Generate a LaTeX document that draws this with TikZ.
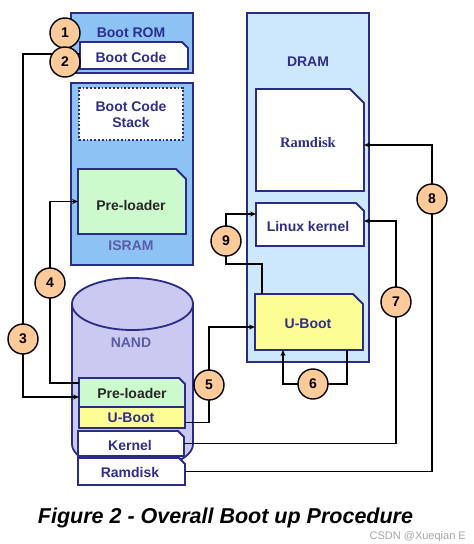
\documentclass[tikz,border=0pt]{standalone}
\usepackage{fontspec}
\setmainfont{Liberation Sans}
\newfontfamily\serifbold{Liberation Serif}
\usetikzlibrary{arrows.meta,calc}
\definecolor{navy}{HTML}{2E2E8C}
\definecolor{edge}{HTML}{2B2B8A}
\definecolor{midblue}{HTML}{8CC2F4}
\definecolor{lightblue}{HTML}{CDE8FD}
\definecolor{lavender}{HTML}{C9C9F2}
\definecolor{mint}{HTML}{CCFACC}
\definecolor{lemon}{HTML}{FDFD96}
\definecolor{peach}{HTML}{FFCA99}
\definecolor{fadedlbl}{HTML}{5C5CA6}
\newcommand\notched[3]{\draw[box,fill=#2] (#1.north west) -- ([xshift=-#3pt]#1.north east) -- ([yshift=-#3pt]#1.north east) -- (#1.south east) -- (#1.south west) -- cycle;}
\begin{document}
\begin{tikzpicture}[x=1pt,y=-1pt,
  box/.style={draw=edge, line width=1.8pt},
  area/.style={inner sep=0pt, outer sep=0pt},
  lbl/.style={font=\fontsize{14}{16}\selectfont\bfseries, text=navy, inner sep=0pt, align=center},
  num/.style={circle, draw=black, line width=1.4pt, fill=peach, minimum size=30pt, inner sep=0pt, font=\fontsize{14}{16}\selectfont\bfseries},
  conn/.style={line width=1.6pt, draw=black},
  arr/.style={conn, -{Stealth[length=6pt,width=5pt]}}]
\useasboundingbox (0,0) rectangle (474,544);

% Boot ROM
\node[area, box, fill=midblue, minimum width=122pt, minimum height=60pt] (bootrom) at (132,43) {};
\node[lbl] (bootromtxt) at (131,33) {Boot ROM};
\node[area, minimum width=108pt, minimum height=27pt] (bootcode) at (134,55.5) {};
\notched{bootcode}{white}{6}
\node[lbl] (bootcodetxt) at (131,57) {Boot Code};

% ISRAM
\node[area, box, fill=midblue, minimum width=122pt, minimum height=182pt] (isram) at (132,174) {};
\node[area, draw=edge, line width=1.8pt, dotted, fill=white, minimum width=104pt, minimum height=52pt] (stack) at (131,114) {};
\node[lbl] (stacktxt) at (131,114) {Boot Code\\Stack};
\node[area, minimum width=108pt, minimum height=65pt] (ipre) at (132,201.5) {};
\notched{ipre}{mint}{10}
\node[lbl, text=black!85] (ipretxt) at (131,205) {Pre-loader};
\node[lbl, text=fadedlbl] (isramtxt) at (131,246) {ISRAM};

% DRAM
\node[area, box, fill=lightblue, minimum width=122pt, minimum height=349pt] (dram) at (308,187.5) {};
\node[lbl] (dramtxt) at (308,62) {DRAM};
\node[area, minimum width=108pt, minimum height=102pt] (dramdisk) at (310,140) {};
\notched{dramdisk}{white}{14}
\node[lbl, font=\serifbold\fontsize{14.5}{16}\selectfont\bfseries] (dramdisktxt) at (308,143) {Ramdisk};
\node[area, minimum width=108pt, minimum height=43pt] (linux) at (310,224.5) {};
\notched{linux}{white}{8}
\node[lbl] (linuxtxt) at (308,226) {Linux kernel};
\node[area, minimum width=108pt, minimum height=56pt] (duboot) at (309,322) {};
\notched{duboot}{lemon}{10}
\node[lbl] (duboottxt) at (308,324) {U-Boot};

% NAND cylinder
\draw[box, fill=lavender] (72,304) -- (72,444) arc[start angle=180, end angle=0, x radius=60.5, y radius=26] -- (193,304) arc[start angle=0, end angle=-180, x radius=60.5, y radius=26] -- cycle;
\draw[box] (72,304) arc[start angle=180, end angle=0, x radius=60.5, y radius=26];
\node[lbl, text=fadedlbl] (nandtxt) at (131,343) {NAND};
\node[area, minimum width=106pt, minimum height=29pt] (npre) at (132,392.5) {};
\notched{npre}{mint}{6}
\node[lbl, text=black!85] (npretxt) at (132,393) {Pre-loader};
\node[area, box, fill=lemon, minimum width=106pt, minimum height=21pt] (nuboot) at (132,417.5) {};
\node[lbl] (nuboottxt) at (131,418) {U-Boot};
\node[area, minimum width=106pt, minimum height=25pt] (nkernel) at (131,443.5) {};
\notched{nkernel}{white}{6}
\node[lbl] (nkerneltxt) at (130,445) {Kernel};
\node[area, minimum width=107pt, minimum height=27pt] (nramdisk) at (131.5,471.5) {};
\notched{nramdisk}{white}{6}
\node[lbl] (nramdisktxt) at (130,472) {Ramdisk};

% connectors
\coordinate (p3a) at (23,54);
\coordinate (p3b) at (23,397);
\draw[arr] ([yshift=1.5pt]bootcode.west) -- (p3a) -- (p3b) -- (p3b -| npre.west);
\coordinate (p4a) at (50,383);
\coordinate (p4b) at (50,201.5);
\draw[arr] ([yshift=9.5pt]npre.west) -- (p4a) -- (p4b) -- (ipre.west);
\coordinate (p5a) at (209,422.5);
\coordinate (p5b) at (209,327);
\draw[arr] ([yshift=-5pt]nuboot.east) -- (p5a) -- (p5b) -- (p5b -| duboot.west);
\coordinate (p6a) at (347,384);
\coordinate (p6b) at (283,384);
\draw[arr] (p6a |- duboot.south) -- (p6a) -- (p6b) -- (p6b |- duboot.south);
\coordinate (p7a) at (396,443.5);
\coordinate (p7b) at (396,221);
\draw[arr] (nkernel.east) -- (p7a) -- (p7b) -- (p7b -| linux.east);
\coordinate (p8a) at (432,471.5);
\coordinate (p8b) at (432,145);
\draw[arr] (nramdisk.east) -- (p8a) -- (p8b) -- (p8b -| dramdisk.east);
\coordinate (p9a) at (262,264);
\coordinate (p9b) at (226,264);
\coordinate (p9c) at (226,214);
\draw[arr] (p9a |- duboot.north) -- (p9a) -- (p9b) -- (p9c) -- (p9c -| linux.west);

% numbered circles
\node[num] (c1) at (65,33) {1};
\node[num] (c2) at (65,62) {2};
\node[num] (c3) at (23,339) {3};
\node[num] (c4) at (50,283) {4};
\node[num] (c5) at (209,385) {5};
\node[num] (c6) at (313,384) {6};
\node[num] (c7) at (396,302) {7};
\node[num] (c8) at (432,199) {8};
\node[num] (c9) at (226,241) {9};

% caption
\node[font=\fontsize{21.5}{24}\selectfont\bfseries\itshape, inner sep=0pt, anchor=base] (caption) at (225.5,523) {Figure 2 - Overall Boot up Procedure};
\node[font=\fontsize{11}{13}\selectfont, text=black!35, inner sep=0pt, anchor=base east] (wm) at (466,539) {CSDN @Xueqian E};
\end{tikzpicture}
\end{document}
